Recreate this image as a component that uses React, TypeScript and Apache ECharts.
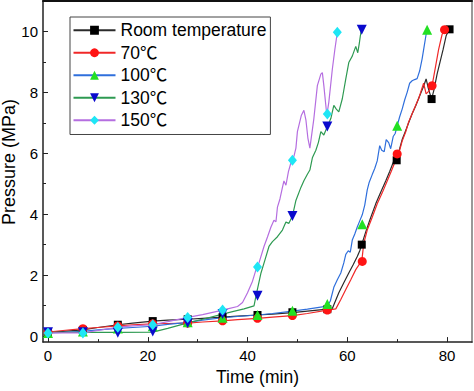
import React, { useEffect, useRef } from "react";
import * as echarts from "echarts";

const FONT = "'Liberation Sans', Arial, sans-serif";
const LEGEND_FONT = "'Liberation Sans', Arial, 'Noto Sans CJK SC', sans-serif";

const seriesNames = ["Room temperature", "70℃", "100℃", "130℃", "150℃"];
const xMajorTicks = [0, 20, 40, 60, 80];
const xMinorTicks = [10, 30, 50, 70];
const yMajorTicks = [0, 2, 4, 6, 8, 10];
const yMinorTicks = [1, 3, 5, 7, 9];

const roomLine = [
  [0, 0.13], [3, 0.15], [7, 0.2], [10, 0.28], [14, 0.37], [17, 0.42], [21, 0.49], [24, 0.52],
  [28, 0.55], [31, 0.58], [35, 0.62], [38, 0.65], [42, 0.69], [45, 0.72], [49, 0.77], [52, 0.82],
  [56, 0.88], [57, 0.9], [58.3, 1.42], [59.3, 1.75], [60.3, 2.07], [61.2, 2.35], [62, 2.61],
  [62.5, 2.8], [62.9, 3.01], [63.7, 3.42], [64.5, 3.8], [65.7, 4.34], [66.5, 4.65], [67.7, 5.09],
  [68.5, 5.4], [69.3, 5.74], [69.9, 5.8], [70.5, 6.15], [71, 6.45], [71.6, 6.7], [72.3, 7.0],
  [73, 7.3], [73.7, 7.55], [74.3, 7.8], [74.8, 8.0], [75.3, 8.2], [75.8, 8.44], [76.3, 8.1],
  [76.9, 7.78], [77.4, 8.1], [78, 8.6], [78.6, 9.0], [79.2, 9.4], [79.8, 9.85], [80.4, 10.07],
];

const line70 = [
  [0, 0.13], [3, 0.18], [7, 0.24], [10, 0.28], [14, 0.33], [17, 0.37], [21, 0.4], [24, 0.41],
  [28, 0.42], [31, 0.46], [35, 0.5], [38, 0.54], [42, 0.58], [45, 0.62], [49, 0.67], [52, 0.74],
  [56, 0.85], [57.7, 0.89], [58.7, 1.2], [59.7, 1.53], [60.7, 1.85], [61.7, 2.18], [62.4, 2.35],
  [62.9, 2.45], [63.3, 3.04], [64, 3.48], [65, 3.9], [66, 4.34], [67, 4.7], [68, 5.09],
  [68.8, 5.4], [69.4, 5.65], [70, 6.0], [70.5, 6.1], [71, 6.4], [71.7, 6.7], [72.3, 7.03],
  [73, 7.3], [73.7, 7.57], [74.3, 7.8], [74.7, 8.0], [75.3, 8.3], [75.8, 7.95], [76.4, 8.05],
  [77, 8.22], [77.7, 8.85], [78.3, 9.4], [79, 9.9], [79.5, 10.06],
];

const line100 = [
  [0, 0.1], [3, 0.12], [7, 0.15], [10, 0.2], [14, 0.25], [17, 0.28], [21, 0.32], [24, 0.38],
  [28, 0.45], [31, 0.52], [35, 0.6], [38, 0.64], [42, 0.69], [45, 0.74], [49, 0.82], [52, 0.88],
  [56, 0.98], [56.6, 1.15], [57.3, 1.6], [58, 1.85], [58.7, 2.07], [59.3, 2.4], [59.7, 2.68],
  [60.2, 2.8], [60.6, 2.75], [61, 3.15], [61.5, 3.35], [62, 3.58], [62.5, 3.78], [63, 3.98],
  [63.5, 4.3], [64, 4.8], [64.4, 5.05], [65, 5.3], [65.5, 5.5], [66, 5.75], [66.5, 6.25],
  [66.9, 6.1], [67.4, 6.05], [67.8, 6.45], [68.3, 6.35], [68.7, 6.15], [69.2, 6.55], [69.6, 6.65],
  [70, 6.9], [70.5, 7.2], [71, 7.45], [71.5, 7.75], [72, 8.0], [72.5, 8.3], [73, 8.38],
  [73.5, 8.42], [74, 8.45], [74.5, 8.7], [75, 9.1], [75.4, 9.5], [75.8, 9.9], [76.1, 10.06],
];

const line130 = [
  [0, 0.12], [7, 0.12], [14, 0.12], [21, 0.13], [24, 0.25], [28, 0.43], [31, 0.55], [35, 0.72],
  [37, 0.8], [39.3, 0.89], [41.3, 0.99], [41.7, 1.32], [42.7, 2.07], [43.5, 2.5], [44.3, 2.94],
  [45, 3.1], [46, 3.26], [47, 3.48], [47.7, 3.74], [48.3, 3.7], [49, 3.94], [49.7, 4.45],
  [50.7, 4.88], [51.3, 5.1], [52, 5.31], [52.5, 5.45], [53, 5.85], [53.7, 6.1], [54.2, 6.35],
  [54.7, 6.71], [55.3, 6.6], [56, 6.88], [56.7, 7.14], [57.3, 7.57], [57.8, 7.45], [58.3, 7.36],
  [59, 7.79], [59.7, 8.44], [60.3, 8.98], [61, 9.19], [61.7, 9.51], [62.1, 9.3], [62.4, 9.6],
  [62.7, 9.95], [62.9, 10.06],
];

const line150 = [
  [0, 0.1], [7, 0.1], [10, 0.18], [14, 0.29], [17, 0.33], [21, 0.37], [24, 0.47], [28, 0.61],
  [31, 0.7], [35, 0.85], [36, 0.89], [38, 0.97], [39, 1.1], [40, 1.42], [41, 1.8], [41.7, 2.18],
  [42.3, 2.4], [43.3, 2.94], [44, 3.25], [44.7, 3.58], [45.3, 3.8], [45.7, 3.75], [46, 4.23],
  [46.5, 4.5], [47, 4.88], [47.3, 5.09], [47.7, 4.95], [48.2, 5.4], [48.7, 5.69], [49.3, 5.9],
  [49.7, 6.17], [50, 6.71], [50.8, 7.25], [51.3, 7.41], [51.7, 7.1], [52.1, 6.5], [52.5, 6.17],
  [53.3, 7.14], [54, 8.22], [54.7, 8.6], [55, 8.65], [55.3, 8.22], [55.7, 7.57], [55.9, 7.25],
  [56.3, 7.68], [57, 8.76], [57.5, 9.4], [58, 9.97],
];

const roomMarks = [
  [0, 0.13], [7, 0.2], [14, 0.37], [21, 0.49], [28, 0.55], [35, 0.62], [42, 0.69], [49, 0.78],
  [56, 0.88], [62.9, 3.0], [69.9, 5.77], [76.9, 7.78], [80.5, 10.07],
];
const marks70 = [
  [0, 0.13], [7, 0.24], [14, 0.33], [21, 0.4], [28, 0.42], [35, 0.5], [42, 0.58], [49, 0.67],
  [56, 0.85], [63, 2.45], [70, 5.98], [77, 8.22], [79.5, 10.06],
];
const marks100 = [
  [0, 0.1], [7, 0.15], [14, 0.25], [21, 0.32], [28, 0.45], [35, 0.6], [42, 0.69], [49, 0.83],
  [56, 1.05], [63, 3.67], [70, 6.9], [76, 10.06],
];
const marks130 = [
  [0, 0.12], [7, 0.12], [14, 0.11], [21, 0.15], [28, 0.43], [35, 0.72], [42, 1.32], [49, 3.94],
  [56, 6.88], [62.9, 10.06],
];
const marks150 = [
  [0, 0.1], [7, 0.1], [14, 0.29], [21, 0.37], [28, 0.61], [35, 0.85], [42, 2.27], [49, 5.77],
  [56, 7.29], [58, 9.97],
];

const lineData = [roomLine, line70, line100, line130, line150];
const markData = [roomMarks, marks70, marks100, marks130, marks150];
const lineColors = ["#2b2b2b", "#f02828", "#2f6fdc", "#2e9a52", "#b56ee0"];
const markColors = ["#000000", "#ff1414", "#22e022", "#0a0acd", "#1ee6f5"];
const markSymbols = ["rect", "circle", "triangle", "triangle", "diamond"];
const markRotate = [0, 0, 0, 180, 0];
const markSizes: any[] = [8, 9, 10, 10, [9, 11]];

export default function App() {
  const ref = useRef<HTMLDivElement>(null);
  useEffect(() => {
    if (!ref.current) return;
    const chart = echarts.init(ref.current, null, { renderer: "svg" });
    const xMin = -1, xMax = 85, yMin = -0.2, yMax = 11;
    const lineSeries = seriesNames.map((name, i) => ({
      name,
      type: "line",
      xAxisIndex: 0,
      yAxisIndex: 0,
      data: lineData[i],
      showSymbol: false,
      symbol: markSymbols[i],
      symbolRotate: markRotate[i],
      symbolSize: markSizes[i],
      itemStyle: { color: markColors[i] },
      lineStyle: { color: lineColors[i], width: 1.2 },
      z: 2,
      silent: true,
    }));
    const markSeries = seriesNames.map((name, i) => ({
      name,
      type: "scatter",
      xAxisIndex: 0,
      yAxisIndex: 0,
      data: markData[i],
      symbol: markSymbols[i],
      symbolRotate: markRotate[i],
      symbolSize: markSizes[i],
      itemStyle: { color: markColors[i], opacity: 1 },
      z: 3,
      silent: true,
    }));
    const labelStyle = { color: "#000", fontSize: 15, fontFamily: FONT };
    chart.setOption({
      animation: false,
      backgroundColor: "#fff",
      grid: { left: 43, right: 2, top: 1, bottom: 44 },
      legend: {
        data: seriesNames,
        orient: "vertical",
        left: 70,
        top: 17,
        itemWidth: 42,
        itemHeight: 11,
        itemGap: 5,
        padding: [4.5, 4, 5.5, 2.5],
        borderColor: "#444",
        borderWidth: 1,
        backgroundColor: "#fff",
        textStyle: { color: "#000", fontSize: 17.5, fontFamily: LEGEND_FONT },
        selectedMode: false,
      },
      xAxis: [
        {
          type: "value", min: xMin, max: xMax, position: "bottom",
          name: "Time (min)", nameLocation: "middle", nameGap: 24,
          nameTextStyle: { color: "#000", fontSize: 17.5, fontFamily: FONT },
          axisLine: { show: true, onZero: false, lineStyle: { color: "#222", width: 1.5 } },
          axisTick: { show: true, inside: true, length: 5, customValues: xMajorTicks, lineStyle: { color: "#222" } },
          axisLabel: { show: true, margin: 6, customValues: xMajorTicks, ...labelStyle },
          splitLine: { show: false },
        },
        {
          type: "value", min: xMin, max: xMax, position: "top",
          axisLine: { show: true, onZero: false, lineStyle: { color: "#111", width: 2 } },
          axisTick: { show: false }, axisLabel: { show: false }, splitLine: { show: false },
        },
        {
          type: "value", min: xMin, max: xMax, position: "bottom",
          axisLine: { show: false, onZero: false },
          axisTick: { show: true, inside: true, length: 3, customValues: xMinorTicks, lineStyle: { color: "#222" } },
          axisLabel: { show: false }, splitLine: { show: false },
        },
      ],
      yAxis: [
        {
          type: "value", min: yMin, max: yMax, position: "left",
          axisLine: { show: true, onZero: false, lineStyle: { color: "#222", width: 1.5 } },
          axisTick: { show: true, inside: true, length: 5, customValues: yMajorTicks, lineStyle: { color: "#222" } },
          axisLabel: { show: true, margin: 5, customValues: yMajorTicks, ...labelStyle },
          splitLine: { show: false },
        },
        {
          type: "value", min: yMin, max: yMax, position: "right",
          axisLine: { show: true, onZero: false, lineStyle: { color: "#999", width: 2 } },
          axisTick: { show: false }, axisLabel: { show: false }, splitLine: { show: false },
        },
        {
          type: "value", min: yMin, max: yMax, position: "left",
          axisLine: { show: false, onZero: false },
          axisTick: { show: true, inside: true, length: 3, customValues: yMinorTicks, lineStyle: { color: "#222" } },
          axisLabel: { show: false }, splitLine: { show: false },
        },
      ],
      graphic: [
        {
          type: "text",
          x: 9,
          y: 162,
          rotation: Math.PI / 2,
          style: {
            text: "Pressure (MPa)",
            fill: "#000",
            font: `18px ${FONT}`,
            textAlign: "center",
            textVerticalAlign: "middle",
          },
        },
      ],
      series: [...lineSeries, ...markSeries],
    });
    return () => chart.dispose();
  }, []);
  return (
    <div
      ref={ref}
      style={{ position: "fixed", left: 0, top: 0, width: 474, height: 391, background: "#fff" }}
    />
  );
}
